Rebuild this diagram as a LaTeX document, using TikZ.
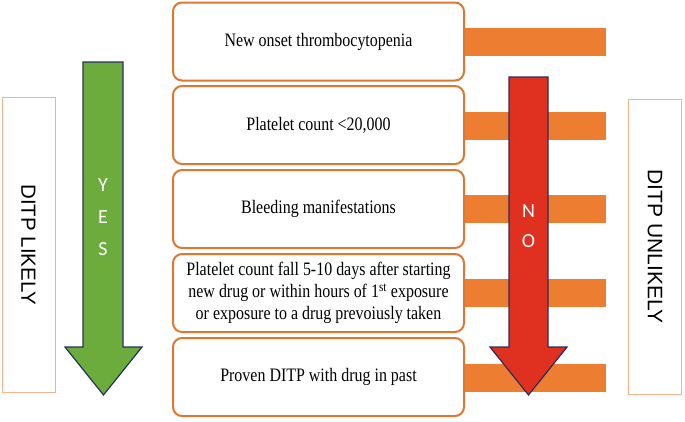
\documentclass[tikz,border=0pt]{standalone}
\usepackage{fontspec}
\setmainfont{Liberation Serif}[FakeStretch=0.84]
\newfontfamily\calfont{Carlito}
\setsansfont{Liberation Sans}
\definecolor{barorange}{RGB}{237,125,49}
\definecolor{boxorange}{RGB}{222,120,48}
\definecolor{sideorange}{RGB}{244,180,140}
\definecolor{yesgreen}{RGB}{108,172,60}
\definecolor{nored}{RGB}{224,48,32}
\definecolor{navy}{RGB}{40,48,90}
\begin{document}
\begin{tikzpicture}[x=1pt,y=-1pt,
  stepbox/.style={draw=boxorange,line width=2pt,rounded corners=9pt,fill=white,
    minimum width=291pt,minimum height=78pt,align=center,inner sep=2pt,
    font=\fontsize{19}{22}\selectfont},
  bar/.style={fill=barorange,draw=none},
  sidebox/.style={draw=sideorange,line width=1pt,fill=white,minimum width=53pt,minimum height=295pt},
  sidetext/.style={rotate=-90,font=\sffamily\fontsize{20.5}{24}\selectfont},
  bigarrow/.style={draw=navy,line width=1.2pt,line join=miter},
  arrowtext/.style={font=\calfont\fontsize{20}{32}\selectfont,text=white,align=center}]
\useasboundingbox (0,0) rectangle (685,421);
% bars
\foreach \y/\n in {42/1,126/2,209/3,293/4,377.5/5}
  \fill[bar] (440,\y-14) rectangle (606,\y+14);
% boxes
\node[stepbox] (b1) at (318.5,41.5) {New onset thrombocytopenia};
\node[stepbox] (b2) at (318.5,125) {Platelet count <20,000};
\node[stepbox] (b3) at (318.5,209) {Bleeding manifestations};
\node[stepbox] (b4) at (318.5,293) {Platelet count fall 5-10 days after starting\\new drug or within hours of 1\textsuperscript{st} exposure\\or exposure to a drug prevoiusly taken};
\node[stepbox] (b5) at (318.5,377) {Proven DITP with drug in past};
% side boxes
\node[sidebox] (likely) at (28.5,244.5) {};
\node[sidetext] at (likely.center) {DITP LIKELY};
\node[sidebox] (unlikely) at (655,246.5) {};
\node[sidetext,font=\sffamily\fontsize{21}{24}\selectfont] at (unlikely.center) {DITP UNLIKELY};
% arrows
\draw[bigarrow,fill=yesgreen] (83,62) -- (123,62) -- (123,347) -- (142,347) -- (103.5,395) -- (65,347) -- (83,347) -- cycle;
\draw[bigarrow,fill=nored] (509,77) -- (548,77) -- (548,347) -- (567,347) -- (528.5,395) -- (490,347) -- (509,347) -- cycle;
\node[arrowtext] (yes) at (103,217) {Y\\E\\S};
\node[arrowtext,font=\calfont\fontsize{20}{30}\selectfont] (no) at (528.5,226) {N\\O};
\end{tikzpicture}
\end{document}
